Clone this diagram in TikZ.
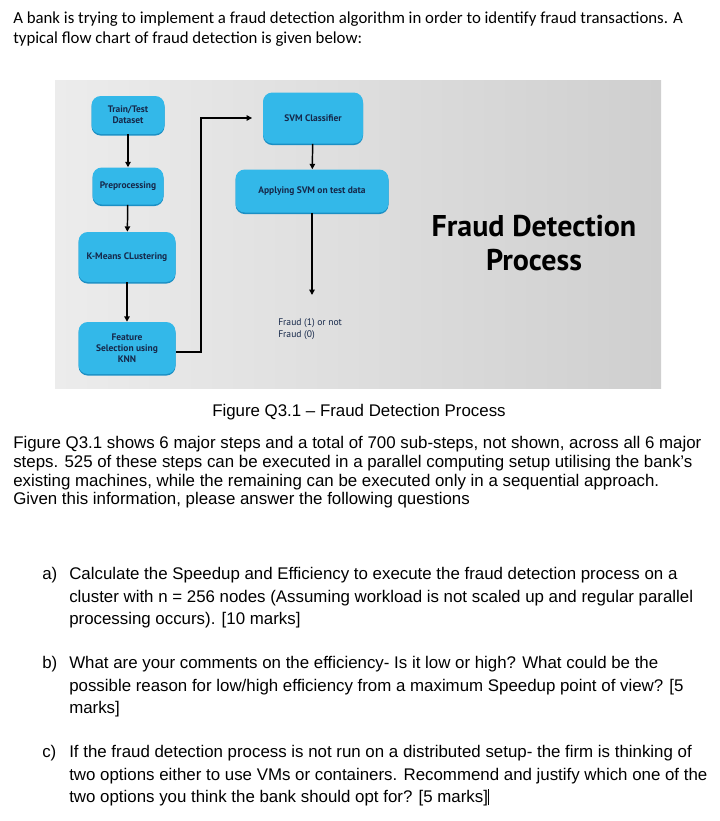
\documentclass[tikz,border=0pt]{standalone}
\usepackage{fontspec}
\setmainfont{Liberation Sans}
\newfontfamily\calibri{Carlito}
\newfontfamily\myriad{PT Sans}
\usetikzlibrary{arrows.meta}
\definecolor{boxblue}{HTML}{33B8E9}
\definecolor{boxshadow}{HTML}{1B8FC4}
\definecolor{boxtext}{HTML}{16284A}
\definecolor{panelL}{HTML}{ECECEC}
\definecolor{panelR}{HTML}{CFCFCF}
\tikzset{
  box/.style={fill=boxblue, rounded corners=7pt, text=boxtext, align=center,
    font=\myriad\bfseries\fontsize{7.1}{8.4}\selectfont, inner sep=1pt,
    preaction={fill=boxshadow, transform canvas={yshift=-1.2pt}}},
  arr/.style={draw=black, line width=1.1pt, -{Triangle[length=4pt,width=4pt]}},
  line/.style={anchor=base west, inner sep=0pt},
  para/.style={line, font=\fontsize{12.65}{14}\selectfont},
  top/.style={line, font=\calibri\fontsize{12.6}{14}\selectfont},
}
\begin{document}
\begin{tikzpicture}[x=0.75pt,y=-0.75pt]
\useasboundingbox (0,0) rectangle (719,821);
% top text
\node[top] (t1) at (13,23) {A bank is trying to implement a fraud detection algorithm in order to identify fraud transactions. A};
\node[top] (t2) at (13,43) {typical flow chart of fraud detection is given below:};
% panel
\shade[left color=panelL, right color=panelR] (55,80) rectangle (661,388);
% boxes
\node[box, minimum width=54.75pt, minimum height=28.5pt] (train) at (128,115) {Train/Test\\Dataset};
\node[box, minimum width=53.25pt, minimum height=27.75pt] (pre) at (128,186) {Preprocessing};
\node[box, minimum width=72.75pt, minimum height=37.5pt] (km) at (127,257) {K-Means CLustering};
\node[box, minimum width=72.75pt, minimum height=39pt] (feat) at (127,348) {Feature\\Selection using\\KNN};
\node[box, minimum width=75pt, minimum height=38.25pt] (svm) at (313,118) {SVM Classifier};
\node[box, minimum width=114.75pt, minimum height=32.25pt] (apply) at (312,191) {Applying SVM on test data};
\coordinate (out) at (312,295);
\node[anchor=north west, inner sep=0pt, align=left, text=boxtext,
  font=\myriad\fontsize{7.2}{9}\selectfont] (res) at (278,318) {Fraud (1) or not\\Fraud (0)};
% connectors
\draw[arr] (train) -- (pre);
\draw[arr] (pre) -- (km);
\draw[arr] (km) -- (feat);
\draw[arr, shorten >=8pt] ([yshift=-3pt]feat.east) -- ++(25,0) |- (svm.west);
\draw[arr] (svm) -- (apply);
\draw[arr] (apply) -- (out);
% title
\node[align=center, text=black, font=\myriad\bfseries\fontsize{22.5}{26}\selectfont] (title) at (534,243) {Fraud Detection\\Process};
% caption and paragraph
\node[para] (cap) at (212,416) {Figure Q3.1 -- Fraud Detection Process};
\node[para] (p1) at (13,448) {Figure Q3.1 shows 6 major steps and a total of 700 sub-steps, not shown, across all 6 major};
\node[para] (p2) at (13,467) {steps. 525 of these steps can be executed in a parallel computing setup utilising the bank's};
\node[para] (p3) at (13,486) {existing machines, while the remaining can be executed only in a sequential approach.};
\node[para] (p4) at (13,504) {Given this information, please answer the following questions};
% questions
\node[para] (qa) at (42,579) {a)};
\node[para] (a1) at (69,579) {Calculate the Speedup and Efficiency to execute the fraud detection process on a};
\node[para] (a2) at (69,602) {cluster with n = 256 nodes (Assuming workload is not scaled up and regular parallel};
\node[para] (a3) at (69,624) {processing occurs). [10 marks]};
\node[para] (qb) at (42,668) {b)};
\node[para] (b1) at (69,668) {What are your comments on the efficiency- Is it low or high? What could be the};
\node[para] (b2) at (69,691) {possible reason for low/high efficiency from a maximum Speedup point of view? [5};
\node[para] (b3) at (69,713) {marks]};
\node[para] (qc) at (42,757) {c)};
\node[para] (c1) at (69,757) {If the fraud detection process is not run on a distributed setup- the firm is thinking of};
\node[para] (c2) at (69,780) {two options either to use VMs or containers. Recommend and justify which one of the};
\node[para] (c3) at (69,802) {two options you think the bank should opt for? [5 marks]\rule[-2.5pt]{0.7pt}{12pt}};
\end{tikzpicture}
\end{document}
